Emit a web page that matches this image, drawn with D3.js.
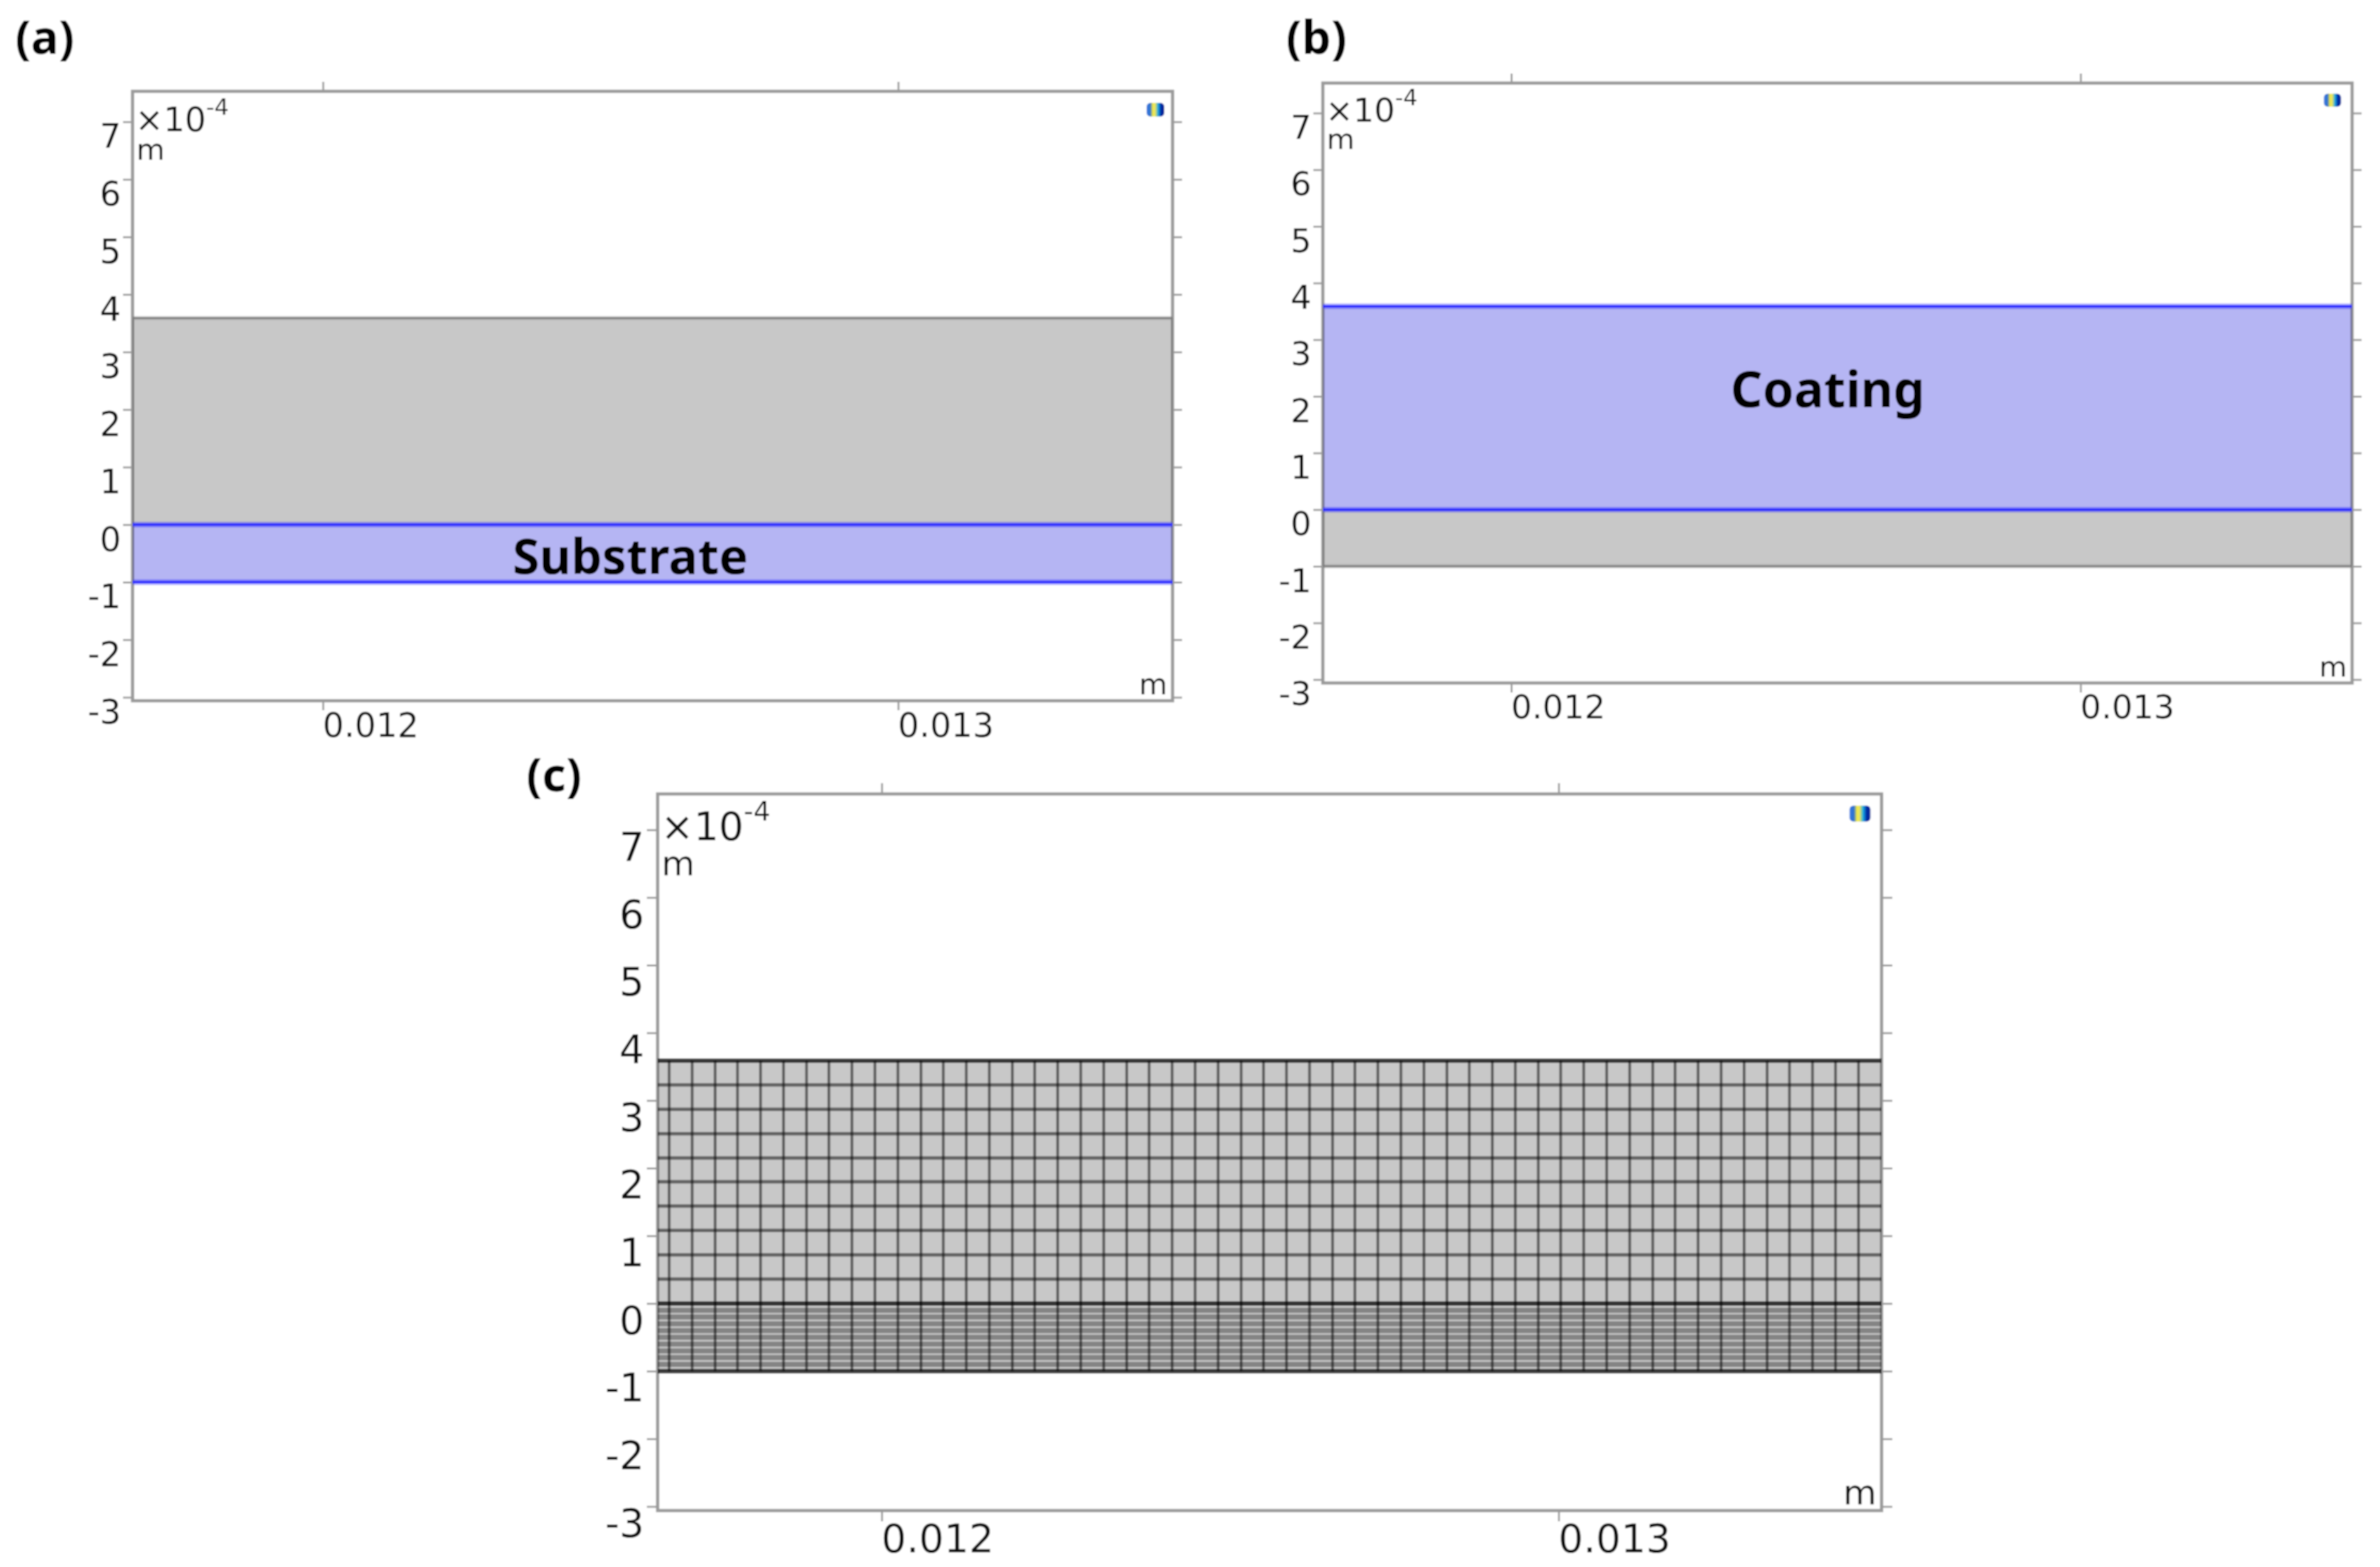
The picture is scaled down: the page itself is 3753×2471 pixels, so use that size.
<!DOCTYPE html>
<html>
<head>
<meta charset="utf-8">
<script src="https://cdnjs.cloudflare.com/ajax/libs/d3/7.8.5/d3.min.js"></script>
<style>
  body { margin: 0; background: #fff; }
</style>
</head>
<body>
<script>
// axis values, x in mm (shown as m), y in units of 1e-4 m
const xDomain = [11.669, 13.477];
const yDomain = [-3.06, 7.53];
const xTicks = [12, 13];
const xTickLabels = ['0.012', '0.013'];
const yTicks = [-3, -2, -1, 0, 1, 2, 3, 4, 5, 6, 7];

// layer boundaries
const coatingTop = 3.59;
const interfaceY = 0;
const substrateBottom = -1;

// mesh lines
const meshX = [11.686, 11.720, 11.754, 11.787, 11.821, 11.855, 11.889, 11.922, 11.956, 11.990,
  12.024, 12.058, 12.091, 12.125, 12.159, 12.193, 12.226, 12.260, 12.294, 12.328,
  12.362, 12.395, 12.429, 12.463, 12.497, 12.531, 12.564, 12.598, 12.632, 12.666,
  12.699, 12.733, 12.767, 12.801, 12.835, 12.868, 12.902, 12.936, 12.970, 13.003,
  13.037, 13.071, 13.105, 13.139, 13.172, 13.206, 13.240, 13.274, 13.308, 13.341,
  13.375, 13.409, 13.443];
const meshYCoating = [3.23, 2.87, 2.51, 2.15, 1.80, 1.44, 1.08, 0.72, 0.36];
const meshYSubstrate = [-0.1, -0.2, -0.3, -0.4, -0.5, -0.6, -0.7, -0.8, -0.9];

const GREY = '#c8c8c8';
const BLUE = '#b5b5f3';
const INK = '#111';

const svg = d3.select('body').append('svg')
  .attr('width', 3753)
  .attr('height', 2471);

const defs = svg.append('defs');

// the reference is a slightly soft screenshot
defs.append('filter')
  .attr('id', 'soft')
  .attr('filterUnits', 'userSpaceOnUse')
  .attr('x', 0).attr('y', 0).attr('width', 3753).attr('height', 2471)
  .append('feGaussianBlur')
  .attr('stdDeviation', 0.9);

const logoGrad = defs.append('linearGradient').attr('id', 'logo');
[[0, '#3f7fe0'], [0.2, '#2a6ed0'], [0.36, '#f5ec40'], [0.5, '#dfe070'], [0.66, '#10a4e6'], [0.84, '#001f9c'], [1, '#123a9c']]
  .forEach((s) => logoGrad.append('stop').attr('offset', s[0]).attr('stop-color', s[1]));

const root = svg.append('g').attr('filter', 'url(#soft)');

root.append('rect')
  .attr('width', 3753)
  .attr('height', 2471)
  .attr('fill', '#fff');

// one COMSOL style plot window
const drawPanel = (p) => {
  const x = d3.scaleLinear().domain(xDomain).range([p.left, p.right]);
  const y = d3.scaleLinear().domain(yDomain).range([p.bottom, p.top]);
  const g = root.append('g').attr('font-family', 'DejaVu Sans');

  // frame first, the layers darken it through multiply
  g.append('rect')
    .attr('x', p.left)
    .attr('y', p.top)
    .attr('width', p.right - p.left)
    .attr('height', p.bottom - p.top)
    .attr('fill', '#fff')
    .attr('stroke', '#9a9a9a')
    .attr('stroke-width', 5);

  // layers
  g.selectAll('rect.layer')
    .data(p.layers)
    .enter()
    .append('rect')
    .attr('class', 'layer')
    .attr('x', p.left)
    .attr('y', (d) => y(d.from))
    .attr('width', p.right - p.left)
    .attr('height', (d) => y(d.to) - y(d.from))
    .attr('fill', (d) => d.fill)
    .style('mix-blend-mode', 'multiply');

  // edges of the layers
  p.edges.forEach((e) => {
    g.append('line')
      .attr('x1', p.left).attr('x2', p.right)
      .attr('y1', y(e.at)).attr('y2', y(e.at))
      .attr('stroke', e.blue ? '#3c3cff' : '#8a8a8a')
      .attr('stroke-opacity', e.blue ? 0.4 : 0.3)
      .attr('stroke-width', e.blue ? 9 : 7);
    g.append('line')
      .attr('x1', p.left).attr('x2', p.right)
      .attr('y1', y(e.at)).attr('y2', y(e.at))
      .attr('stroke', e.blue ? '#2a2aff' : '#7c7c7c')
      .attr('stroke-width', e.blue ? 4 : 3);
  });

  // mesh, only panel (c)
  if (p.mesh) {
    const hLine = (values, width, opacity) => {
      g.append('g').selectAll('line')
        .data(values)
        .enter()
        .append('line')
        .attr('x1', p.left).attr('x2', p.right)
        .attr('y1', (d) => y(d)).attr('y2', (d) => y(d))
        .attr('stroke', '#000')
        .attr('stroke-opacity', opacity)
        .attr('stroke-width', width);
    };
    hLine(meshYCoating, 5.5, 0.5);
    hLine(meshYSubstrate, 8, 0.34);
    hLine([coatingTop, interfaceY, substrateBottom], 7, 0.75);
    g.append('g').selectAll('line')
      .data(meshX)
      .enter()
      .append('line')
      .attr('x1', (d) => x(d)).attr('x2', (d) => x(d))
      .attr('y1', y(coatingTop)).attr('y2', y(substrateBottom))
      .attr('stroke', '#000')
      .attr('stroke-opacity', 0.52)
      .attr('stroke-width', 4.5);
  }

  // axes on all four sides, labels only left and bottom
  const styleAxis = (a) => {
    a.select('.domain').remove();
    a.selectAll('.tick line').attr('stroke', '#9c9c9c').attr('stroke-width', 3);
    a.selectAll('text').attr('fill', INK).attr('font-family', 'DejaVu Sans');
  };

  const left = g.append('g')
    .attr('transform', `translate(${p.left - 2}, 0)`)
    .call(d3.axisLeft(y).tickValues(yTicks).tickSize(p.tick).tickPadding(p.pad).tickFormat((d) => String(d)))
    .call(styleAxis);
  left.selectAll('text')
    .attr('font-size', p.fs)
    .attr('dy', '0.77em');

  g.append('g')
    .attr('transform', `translate(${p.right + 2}, 0)`)
    .call(d3.axisRight(y).tickValues(yTicks).tickSize(p.tick).tickFormat(''))
    .call(styleAxis);

  g.append('g')
    .attr('transform', `translate(0, ${p.top - 2})`)
    .call(d3.axisTop(x).tickValues(xTicks).tickSize(p.tick).tickFormat(''))
    .call(styleAxis);

  const bottom = g.append('g')
    .attr('transform', `translate(0, ${p.bottom + 2})`)
    .call(d3.axisBottom(x).tickValues(xTicks).tickSize(p.tick).tickFormat((d, i) => xTickLabels[i]))
    .call(styleAxis);
  bottom.selectAll('text')
    .attr('font-size', p.fs)
    .attr('text-anchor', 'start')
    .attr('dx', -1)
    .attr('dy', 0)
    .attr('y', p.xLabelY);

  // scale factor in the top left corner
  const scaleText = g.append('text')
    .attr('x', p.left + p.fs * 0.08)
    .attr('y', p.top + p.scaleY)
    .attr('font-size', p.fs)
    .attr('fill', INK);
  scaleText.append('tspan').text('×10');
  scaleText.append('tspan')
    .attr('font-size', p.fs * 0.68)
    .attr('dy', -p.fs * 0.5)
    .text('-4');

  g.append('text')
    .attr('x', p.left + 6)
    .attr('y', p.top + p.unitY)
    .attr('font-size', p.fs * 0.87)
    .attr('fill', INK)
    .text('m');

  g.append('text')
    .attr('x', p.right - 8)
    .attr('y', p.bottom - 10)
    .attr('text-anchor', 'end')
    .attr('font-size', p.fs * 0.87)
    .attr('fill', INK)
    .text('m');

  // small logo top right
  g.append('rect')
    .attr('x', p.right - p.logoRight - p.logoW / 2)
    .attr('y', p.top + p.logoTop - p.logoW * 0.38)
    .attr('width', p.logoW)
    .attr('height', p.logoW * 0.76)
    .attr('rx', 6)
    .attr('fill', 'url(#logo)');

  // panel letter
  root.append('text')
    .attr('x', p.letterX)
    .attr('y', p.letterY)
    .attr('font-family', 'Noto Sans')
    .attr('font-weight', 700)
    .attr('font-size', 73)
    .attr('fill', '#000')
    .text(p.letter);

  // annotation inside the blue layer
  if (p.note) {
    root.append('text')
      .attr('x', p.noteX)
      .attr('y', p.noteY)
      .attr('text-anchor', 'middle')
      .attr('font-family', 'Noto Sans')
      .attr('font-weight', 700)
      .attr('font-size', p.noteSize)
      .attr('fill', '#000')
      .text(p.note);
  }
};

drawPanel({
  letter: '(a)', letterX: 24, letterY: 85,
  left: 209, right: 1849, top: 144, bottom: 1105,
  fs: 53, tick: 13, pad: 3, xLabelY: 55, scaleY: 63, unitY: 108,
  logoRight: 27, logoTop: 29, logoW: 28,
  layers: [
    { from: coatingTop, to: interfaceY, fill: GREY },
    { from: interfaceY, to: substrateBottom, fill: BLUE },
  ],
  edges: [{ at: coatingTop }, { at: interfaceY, blue: true }, { at: substrateBottom, blue: true }],
  note: 'Substrate', noteX: 994, noteY: 905, noteSize: 77,
});

drawPanel({
  letter: '(b)', letterX: 2028, letterY: 85,
  left: 2086, right: 3709, top: 131, bottom: 1077,
  fs: 52, tick: 13, pad: 3, xLabelY: 54, scaleY: 61, unitY: 104,
  logoRight: 31, logoTop: 27, logoW: 27,
  layers: [
    { from: coatingTop, to: interfaceY, fill: BLUE },
    { from: interfaceY, to: substrateBottom, fill: GREY },
  ],
  edges: [{ at: coatingTop, blue: true }, { at: interfaceY, blue: true }, { at: substrateBottom }],
  note: 'Coating', noteX: 2882, noteY: 642, noteSize: 79,
});

drawPanel({
  letter: '(c)', letterX: 830, letterY: 1248,
  left: 1037, right: 2967, top: 1252, bottom: 2382,
  fs: 62, tick: 15, pad: 4, xLabelY: 64, scaleY: 73, unitY: 128,
  logoRight: 34, logoTop: 31, logoW: 33,
  layers: [
    { from: coatingTop, to: substrateBottom, fill: GREY },
  ],
  edges: [],
  mesh: true,
});
</script>
</body>
</html>
